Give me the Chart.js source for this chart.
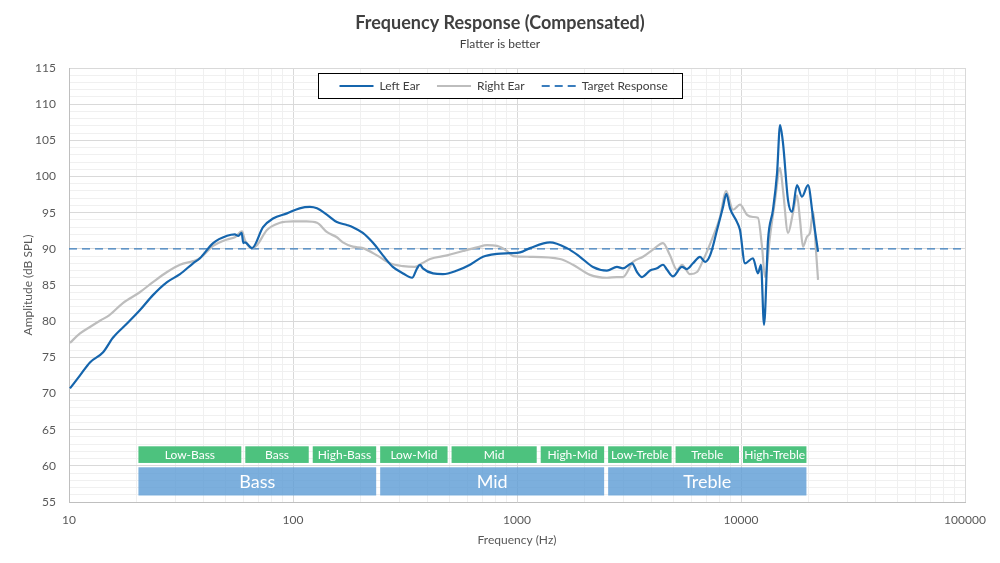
<!DOCTYPE html>
<html>
<head>
<meta charset="utf-8">
<title>Frequency Response (Compensated)</title>
<script src="https://cdn.jsdelivr.net/npm/chart.js@4.4.1/dist/chart.umd.min.js"></script>
<style>
    body { margin: 0; background: #fff; }
</style>
</head>
<body>
<canvas id="frChart" width="1000" height="563"></canvas>
<script>
// Datos (frecuencia en Hz, amplitud en dB SPL)
const leftFreq = [10.1, 11.2, 12.4, 14.2, 15.7, 18.2, 20.7, 23.7, 27.4, 31.3, 35.8, 38.4, 44, 50.8, 55, 57, 59, 60, 61, 65.6,
    73.5, 81.4, 94, 107, 119, 128, 142, 157, 174, 185, 205, 228, 252, 279, 310, 340, 358, 369, 380, 422,
    467, 540, 617, 705, 814, 930, 1032, 1143, 1403, 1671, 1910, 2184, 2521, 2793, 2972, 3260, 3433, 3614, 3926, 4217,
    4485, 4677, 4968, 5452, 5740, 6104, 6563, 6911, 7277, 7817, 8313, 8600, 8930, 9600, 9897, 10420, 11310, 11900, 12280, 12670,
    13200, 13890, 14490, 14940, 15400, 16220, 16900, 17780, 18720, 19920, 20960, 22080];
const leftDb = [70.7, 72.5, 74.3, 75.7, 77.7, 79.7, 81.5, 83.6, 85.4, 86.5, 88.0, 88.7, 90.8, 91.8, 92.0, 91.8, 92.2, 90.8, 90.9, 90.1,
    93.0, 94.2, 94.9, 95.6, 95.8, 95.6, 94.7, 93.7, 93.3, 93.0, 92.2, 90.8, 89.1, 87.5, 86.6, 86.0, 87.3, 87.8, 87.3, 86.6,
    86.5, 87.0, 87.8, 88.9, 89.3, 89.4, 89.5, 90.1, 90.9, 90.1, 88.9, 87.5, 87.0, 87.5, 87.3, 88.0, 86.8, 86.1, 87.0, 87.3,
    87.8, 87.1, 86.2, 87.5, 87.2, 88.0, 88.9, 88.2, 89.1, 92.6, 95.8, 97.6, 95.6, 93.7, 92.6, 88.0, 88.7, 86.6, 87.8, 79.5,
    91.2, 95.4, 100.5, 107.1, 104.6, 96.7, 95.1, 98.8, 97.2, 98.8, 94.4, 89.6];

const rightFreq = [10.1, 11.2, 12.4, 13.8, 15.1, 17.4, 20.7, 23.7, 27.4, 31.3, 35.8, 38.4, 44, 50.8, 55, 59.2, 61, 65.6, 69, 76.5,
    87.5, 100, 115, 128, 142, 157, 167, 185, 205, 237, 271, 310, 350, 377, 409, 487, 574, 663, 735, 814,
    902, 960, 1143, 1555, 1778, 2117, 2521, 2793, 2972, 3295, 3652, 4047, 4485, 4820, 5180, 5452, 5919, 6364, 6768, 7500,
    8061, 8572, 9210, 9897, 10640, 11310, 11900, 12410, 12800, 13470, 14190, 14940, 15400, 16220, 17070, 17780, 18340, 18910, 19710, 20330,
    20960, 21610, 22080];
const rightDb = [77.0, 78.3, 79.2, 80.1, 80.8, 82.5, 84.0, 85.4, 86.8, 87.8, 88.3, 88.7, 90.4, 91.3, 91.6, 92.4, 91.2, 90.1, 90.5, 92.6,
    93.6, 93.8, 93.8, 93.6, 92.3, 91.6, 90.9, 90.3, 90.1, 89.1, 88.0, 87.6, 87.5, 88.0, 88.6, 89.1, 89.7, 90.2, 90.5, 90.4,
    89.7, 89.0, 88.9, 88.6, 87.8, 86.4, 86.0, 86.1, 86.1, 88.2, 88.9, 89.9, 90.8, 89.1, 87.1, 87.8, 86.5, 86.8, 88.4, 91.7,
    94.4, 98.0, 95.4, 96.1, 94.7, 94.4, 94.3, 90.3, 86.1, 91.7, 96.7, 101.2, 98.1, 92.2, 95.0, 97.4, 94.0, 90.3, 91.7, 92.2,
    95.1, 89.8, 85.7];

const targetFreq = [10, 100000];
const targetDb = [90, 90];

// Rangos de frecuencia (bandas de abajo)
const subBandLabels = ['Low-Bass', 'Bass', 'High-Bass', 'Low-Mid', 'Mid', 'High-Mid', 'Low-Treble', 'Treble', 'High-Treble'];
const subBandEdges = [20, 60, 120, 240, 500, 1250, 2500, 5000, 10000, 20000];
const subBandDb = [60.4, 62.7];
const bandLabels = ['Bass', 'Mid', 'Treble'];
const bandEdges = [20, 240, 2500, 20000];
const bandDb = [55.9, 59.8];

const xTickLabels = [10, 100, 1000, 10000, 100000];
const yTickLabels = [55, 60, 65, 70, 75, 80, 85, 90, 95, 100, 105, 110, 115];

const FUENTE = "Lato, 'Open Sans', sans-serif";
Chart.defaults.font.family = FUENTE;
Chart.defaults.color = '#595959';

function pares(xs, ys) {
    return xs.map((f, i) => ({ x: f, y: ys[i] }));
}

// Dibuja las bandas de colores usando las escalas del gráfico
const bandasPlugin = {
    id: 'bandas',
    beforeDatasetsDraw(chart) {
        const { ctx, scales: { x, y } } = chart;
        const fila = (edges, labels, dbRange, color, size) => {
            const top = y.getPixelForValue(dbRange[1]);
            const bottom = y.getPixelForValue(dbRange[0]);
            labels.forEach((txt, i) => {
                const x0 = x.getPixelForValue(edges[i]) + 2;
                const x1 = x.getPixelForValue(edges[i + 1]) - 2;
                ctx.fillStyle = color;
                ctx.fillRect(x0, top, x1 - x0, bottom - top);
                ctx.fillStyle = '#ffffff';
                ctx.font = size + 'px ' + FUENTE;
                ctx.textAlign = 'center';
                ctx.textBaseline = 'middle';
                ctx.fillText(txt, (x0 + x1) / 2, (top + bottom) / 2 + 0.5);
            });
        };
        ctx.save();
        fila(subBandEdges, subBandLabels, subBandDb, 'rgb(77,194,126)', 12);
        fila(bandEdges, bandLabels, bandDb, 'rgba(91,155,213,0.8)', 18);
        ctx.restore();
    }
};

// Leyenda horizontal con marco, centrada en el lienzo y dentro del área del gráfico
const leyendaPlugin = {
    id: 'leyenda',
    beforeDatasetsDraw(chart) {
        const ctx = chart.ctx;
        const sets = chart.data.datasets;
        const lineaW = 34, hueco = 6, sep = 17, padIzq = 21, padDer = 15;
        ctx.save();
        ctx.font = '12px ' + FUENTE;
        const anchos = sets.map(ds => lineaW + hueco + ctx.measureText(ds.label).width);
        const total = anchos.reduce((a, b) => a + b, 0) + sep * (sets.length - 1);
        const boxW = total + padIzq + padDer;
        const boxH = 25;
        const left = Math.round(chart.width / 2 - boxW / 2) + 0.5;
        const top = Math.round(chart.chartArea.top + 5) + 0.5;
        ctx.fillStyle = '#ffffff';
        ctx.fillRect(left, top, boxW, boxH);
        ctx.strokeStyle = '#000000';
        ctx.lineWidth = 1;
        ctx.strokeRect(left, top, Math.round(boxW), boxH);
        const cy = top + boxH / 2;
        let cx = left + padIzq;
        sets.forEach((ds, i) => {
            ctx.beginPath();
            ctx.setLineDash(ds.borderDash || []);
            ctx.strokeStyle = ds.borderColor;
            ctx.lineWidth = ds.label === 'Target Response' ? 2 : ds.borderWidth;
            ctx.moveTo(cx, cy);
            ctx.lineTo(cx + lineaW, cy);
            ctx.stroke();
            ctx.setLineDash([]);
            ctx.fillStyle = '#404040';
            ctx.textAlign = 'left';
            ctx.textBaseline = 'middle';
            ctx.fillText(ds.label, cx + lineaW + hueco, cy);
            cx += anchos[i] + sep;
        });
        ctx.restore();
    }
};

const ctx = document.getElementById('frChart').getContext('2d');
new Chart(ctx, {
    type: 'line',
    data: {
        datasets: [
            {
                label: 'Left Ear',
                data: pares(leftFreq, leftDb),
                borderColor: '#1565ad',
                borderWidth: 2.2,
                pointRadius: 0,
                cubicInterpolationMode: 'monotone'
            },
            {
                label: 'Right Ear',
                data: pares(rightFreq, rightDb),
                borderColor: '#bdbdbd',
                borderWidth: 2.2,
                pointRadius: 0,
                cubicInterpolationMode: 'monotone'
            },
            {
                label: 'Target Response',
                data: pares(targetFreq, targetDb),
                borderColor: '#3a7dbd',
                borderWidth: 1.3,
                borderDash: [8, 5],
                pointRadius: 0,
                tension: 0
            }
        ]
    },
    options: {
        responsive: false,
        animation: false,
        layout: { padding: { left: 14, right: 14, top: 0, bottom: 0 } },
        plugins: {
            title: {
                display: true,
                text: 'Frequency Response (Compensated)',
                color: '#404040',
                font: { size: 18, weight: 'bold' },
                padding: { top: 12, bottom: 3 }
            },
            subtitle: {
                display: true,
                text: 'Flatter is better',
                color: '#404040',
                font: { size: 12, weight: 'normal' },
                padding: { top: 0, bottom: 17 }
            },
            legend: { display: false },
            tooltip: { enabled: false }
        },
        scales: {
            x: {
                type: 'logarithmic',
                min: 10,
                max: 100000,
                afterBuildTicks(s) {
                    const t = [];
                    xTickLabels.forEach((dec, i) => {
                        if (i === xTickLabels.length - 1) { t.push({ value: dec }); return; }
                        for (let m = 1; m <= 9; m++) t.push({ value: dec * m });
                    });
                    s.ticks = t;
                },
                afterFit(s) { s.height = 61; s.paddingRight = 35; },
                ticks: {
                    autoSkip: false,
                    maxRotation: 0,
                    padding: 11,
                    font: { size: 12 },
                    callback: v => xTickLabels.includes(v) ? String(v) : ''
                },
                grid: {
                    drawTicks: false,
                    color: c => xTickLabels.includes(c.tick.value) ? '#d9d9d9' : '#f0f0f0'
                },
                border: { color: '#bfbfbf' },
                title: {
                    display: true,
                    text: 'Frequency (Hz)',
                    font: { size: 12 },
                    padding: { top: 0, bottom: 16 }
                }
            },
            y: {
                min: 55,
                max: 115,
                afterFit(s) { s.width = 55; },
                ticks: {
                    stepSize: 1,
                    autoSkip: false,
                    padding: 13,
                    font: { size: 12 },
                    callback: v => yTickLabels.includes(v) ? String(v) : ''
                },
                grid: {
                    drawTicks: false,
                    color: c => yTickLabels.includes(c.tick.value) ? '#d9d9d9' : '#f0f0f0'
                },
                border: { color: '#bfbfbf' },
                title: {
                    display: true,
                    text: 'Amplitude (dB SPL)',
                    font: { size: 12 },
                    padding: { top: 7, bottom: 0 }
                }
            }
        }
    },
    plugins: [bandasPlugin, leyendaPlugin]
});
</script>
</body>
</html>
